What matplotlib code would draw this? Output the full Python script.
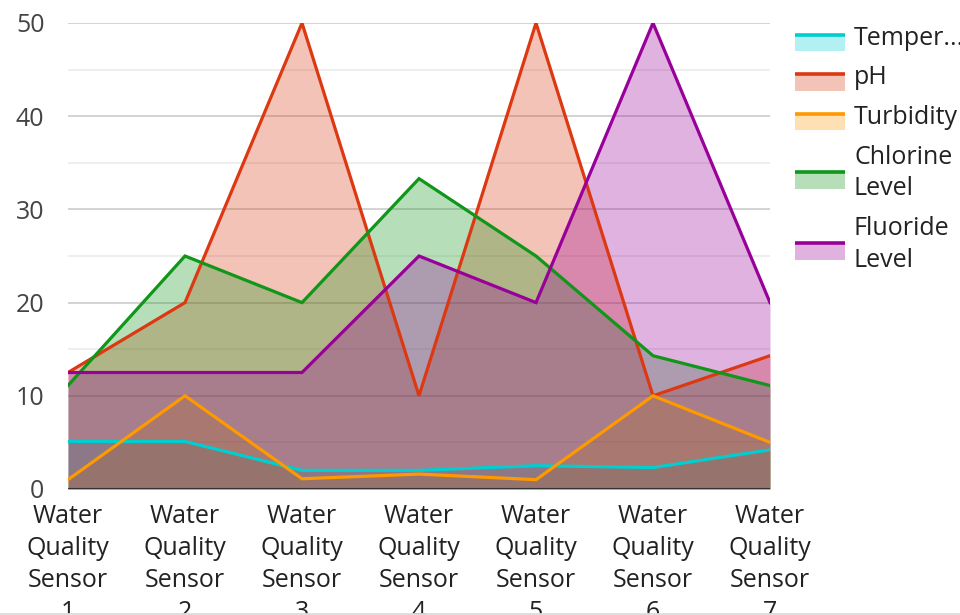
import matplotlib
matplotlib.use('Agg')
import matplotlib.pyplot as plt
from matplotlib.legend_handler import HandlerBase
from matplotlib.patches import Rectangle
from matplotlib.lines import Line2D
import numpy as np

plt.rcParams['font.family'] = ['Open Sans', 'DejaVu Sans']

# sensor readings
sensors = ['Water\nQuality\nSensor\n1', 'Water\nQuality\nSensor\n2', 'Water\nQuality\nSensor\n3',
           'Water\nQuality\nSensor\n4', 'Water\nQuality\nSensor\n5', 'Water\nQuality\nSensor\n6',
           'Water\nQuality\nSensor\n7']
temperature = [5.1, 5.1, 2.0, 2.0, 2.5, 2.3, 4.2]
ph = [12.5, 20, 50, 10, 50, 10, 14.3]
turbidity = [1.0, 10, 1.1, 1.6, 1.0, 10, 5.0]
chlorine = [11.1, 25, 20, 33.3, 25, 14.3, 11.1]
fluoride = [12.5, 12.5, 12.5, 25, 20, 50, 20]

labels = ['Temper...', 'pH', 'Turbidity', 'Chlorine\nLevel', 'Fluoride\nLevel']
colors = ['#00CED1', '#DC3912', '#FF9900', '#109618', '#990099']
series = [temperature, ph, turbidity, chlorine, fluoride]


class AreaHandler(HandlerBase):
    # legend swatch: filled box with the series line along its top edge
    def create_artists(self, legend, orig_handle, xdescent, ydescent, width, height, fontsize, trans):
        c = orig_handle.get_color()
        y0 = -ydescent - 0.35 * height
        top = y0 + 0.95 * height
        rect = Rectangle((-xdescent, y0), width, top - y0, facecolor=c, alpha=0.3,
                         edgecolor='none', transform=trans)
        line = Line2D([-xdescent, -xdescent + width], [top, top], color=c, lw=2.6,
                      transform=trans, solid_capstyle='butt')
        return [rect, line]


fig = plt.figure(figsize=(9.6, 6.15), dpi=100)
fig.patch.set_facecolor('white')
ax = fig.add_axes([68 / 960, 1 - 489 / 615, (770 - 68) / 960, (489 - 23) / 615])

x = np.arange(len(sensors))
for vals, c in zip(series, colors):
    ax.fill_between(x, 0, vals, color=c, alpha=0.3, linewidth=0, zorder=2)
handles = []
for vals, c, lab in zip(series, colors, labels):
    ln, = ax.plot(x, vals, color=c, lw=2.3, zorder=3, label=lab, solid_joinstyle='miter')
    handles.append(ln)

ax.set_xlim(0, 6)
ax.set_ylim(0, 50)
ax.set_yticks(np.arange(0, 51, 10))
ax.set_yticks(np.arange(5, 50, 10), minor=True)
ax.yaxis.grid(True, which='major', color='#cccccc', lw=1.2, zorder=1)
ax.yaxis.grid(True, which='minor', color='#ebebeb', lw=1.2, zorder=1)
ax.axhline(0, color='#333333', lw=1.5, zorder=4)

ax.set_xticks(x)
ax.set_xticklabels(sensors, fontsize=18, color='#222222', linespacing=1.36)
ax.tick_params(axis='x', length=0, pad=11)
ax.tick_params(axis='y', which='both', length=0, pad=17, labelsize=18, labelcolor='#444444')
for s in ax.spines.values():
    s.set_visible(False)

leg = ax.legend(handles=handles, labels=labels, handler_map={Line2D: AreaHandler()},
                loc='upper left', bbox_to_anchor=(795 / 960, 1 - 26 / 615),
                bbox_transform=fig.transFigure, frameon=False, fontsize=18,
                handlelength=2.0, handletextpad=0.36, labelspacing=0.58,
                borderpad=0, borderaxespad=0)
for t in leg.get_texts():
    t.set_color('#222222')
    t.set_linespacing(1.36)

# thin frame line along the bottom edge
fig.add_artist(Line2D([0, 1], [1.5 / 615, 1.5 / 615], transform=fig.transFigure,
                      color='#dddddd', lw=2))

fig.savefig('out.png', dpi=100, facecolor='white')
